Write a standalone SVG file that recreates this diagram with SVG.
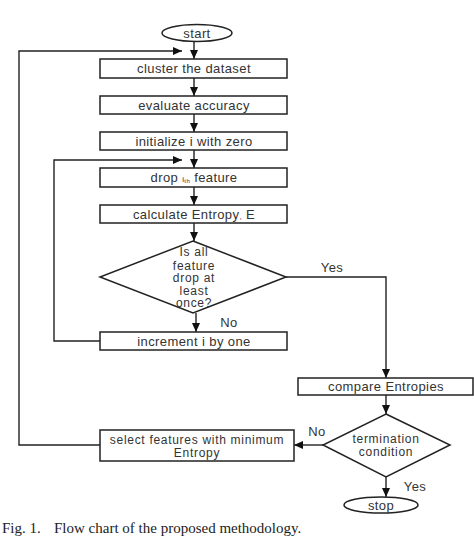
<svg xmlns="http://www.w3.org/2000/svg" width="474" height="537" viewBox="0 0 474 537">
<defs>
<marker id="ah" markerUnits="userSpaceOnUse" markerWidth="9" markerHeight="8" refX="9" refY="4" orient="auto">
<path d="M0,0 L9,4 L0,8 z" fill="#111"/>
</marker>
<style>
.box{fill:#fff;stroke:#222;stroke-width:1.5}
.ln{fill:none;stroke:#222;stroke-width:1.4}
.t{font-family:"Liberation Sans",Arial,sans-serif;font-size:13px;fill:#333;text-anchor:middle;letter-spacing:0.4px}
.d{font-size:12px;letter-spacing:0.7px}
.cap{font-family:"Liberation Serif","Times New Roman",serif;font-size:15px;fill:#222}
</style>
</defs>
<rect width="474" height="537" fill="#fff"/>
<g id="connectors">
<path class="ln" d="M194,41 V59" marker-end="url(#ah)"/>
<path class="ln" d="M194,78 V96" marker-end="url(#ah)"/>
<path class="ln" d="M194,114 V132" marker-end="url(#ah)"/>
<path class="ln" d="M194,150 V168" marker-end="url(#ah)"/>
<path class="ln" d="M194,187 V205" marker-end="url(#ah)"/>
<path class="ln" d="M194,223 V241" marker-end="url(#ah)"/>
<path class="ln" d="M196,313 V332" marker-end="url(#ah)"/>
<path class="ln" d="M100,341 H54 V160 H182" marker-end="url(#ah)"/>
<path class="ln" d="M286,277 H386 V378" marker-end="url(#ah)"/>
<path class="ln" d="M386,395 V414" marker-end="url(#ah)"/>
<path class="ln" d="M323,445 H294" marker-end="url(#ah)"/>
<path class="ln" d="M386,477 V497" marker-end="url(#ah)"/>
<path class="ln" d="M100,445 H19 V51 H182" marker-end="url(#ah)"/>
<text class="t" x="229" y="327">No</text>
<text class="t" x="332" y="272">Yes</text>
<text class="t" x="317" y="436">No</text>
<text class="t" x="415" y="491">Yes</text>
</g>
<g id="start">
<ellipse cx="197" cy="33" rx="35" ry="8.5" class="box"/>
<text class="t" x="197" y="37.5">start</text>
</g>
<g id="cluster">
<rect class="box" x="100" y="59" width="187" height="19"/>
<text class="t" x="194" y="73">cluster the dataset</text>
</g>
<g id="evaluate">
<rect class="box" x="100" y="96" width="187" height="18"/>
<text class="t" x="194" y="109.5">evaluate accuracy</text>
</g>
<g id="initialize">
<rect class="box" x="100" y="132" width="187" height="18"/>
<text class="t" x="194" y="145.5">initialize i with zero</text>
</g>
<g id="drop">
<rect class="box" x="100" y="168" width="187" height="19"/>
<text class="t" x="194" y="182">drop <tspan font-size="8">i</tspan><tspan font-size="6" dy="1">th</tspan><tspan dy="-1"> feature</tspan></text>
</g>
<g id="calc">
<rect class="box" x="100" y="205" width="187" height="18"/>
<text class="t" x="194" y="218.5">calculate Entropy<tspan font-size="8">,</tspan> E</text>
</g>
<g id="decision1">
<polygon class="box" points="193,241 286,277 193,313 100,277"/>
<text class="t d" x="194" y="256">Is all</text>
<text class="t d" x="194" y="269.5">feature</text>
<text class="t d" x="194" y="282">drop at</text>
<text class="t d" x="194" y="294.5">least</text>
<text class="t d" x="194" y="307">once?</text>
</g>
<g id="increment">
<rect class="box" x="100" y="332" width="187" height="18"/>
<text class="t" x="194" y="345.5">increment i by one</text>
</g>
<g id="compare">
<rect class="box" x="298" y="378" width="175" height="17"/>
<text class="t" x="386" y="391">compare Entropies</text>
</g>
<g id="decision2">
<polygon class="box" points="386,414 450,445 386,477 323,445"/>
<text class="t d" x="386" y="442.5">termination</text>
<text class="t d" x="386" y="456">condition</text>
</g>
<g id="select">
<rect class="box" x="100" y="430" width="194" height="31"/>
<text class="t d" x="197" y="443.5">select features with minimum</text>
<text class="t d" x="197" y="457">Entropy</text>
</g>
<g id="stop">
<ellipse cx="381" cy="505" rx="37" ry="8" class="box"/>
<text class="t" x="381" y="509.5">stop</text>
</g>
<text class="cap" x="2" y="533">Fig. 1.</text>
<text class="cap" x="54" y="533">Flow chart of the proposed methodology.</text>
</svg>
